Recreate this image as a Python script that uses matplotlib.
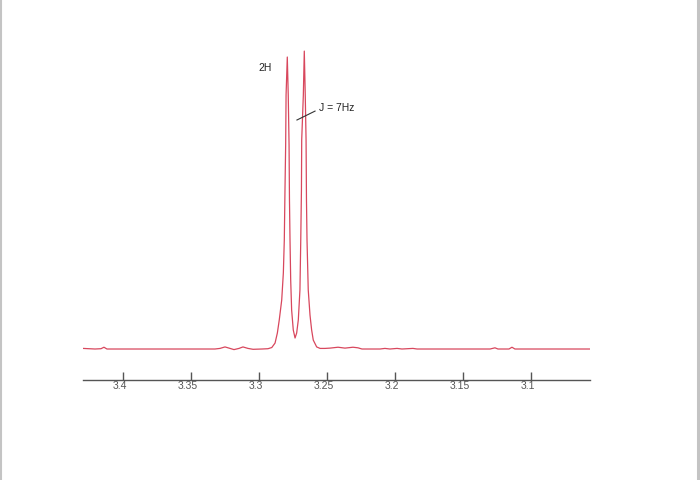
import matplotlib
matplotlib.use("Agg")
import matplotlib.pyplot as plt
from matplotlib.lines import Line2D
from matplotlib.transforms import ScaledTranslation

plt.rcParams["font.family"] = ["Liberation Sans", "DejaVu Sans"]

# chemical shift (ppm) and intensity
ppm = [3.4294, 3.4206, 3.4162, 3.4140, 3.4118, 3.3801, 3.3324, 3.3287, 3.3250,
       3.3213, 3.3184, 3.3147, 3.3118, 3.3081, 3.3044, 3.2978, 3.2934, 3.2906,
       3.2882, 3.2865, 3.2851, 3.2833, 3.2821, 3.2814, 3.2809, 3.2804, 3.2801,
       3.2792, 3.2785, 3.2779, 3.2776, 3.2772, 3.2767, 3.2760, 3.2748, 3.2735,
       3.2723, 3.2711, 3.2699, 3.2693, 3.2688, 3.2686, 3.2674, 3.2667, 3.2660,
       3.2654, 3.2651, 3.2647, 3.2638, 3.2625, 3.2613, 3.2601, 3.2576, 3.2551,
       3.2515, 3.2478, 3.2419, 3.2368, 3.2309, 3.2272, 3.2243, 3.2110, 3.2074,
       3.2037, 3.1985, 3.1949, 3.1868, 3.1838, 3.1301, 3.1265, 3.1243, 3.1162,
       3.1140, 3.1118, 3.0566]
intensity = [0.2, 0.0, 0.1, 0.6, 0.0, 0.0, 0.0, 0.2, 0.7,
             0.2, -0.2, 0.2, 0.7, 0.2, -0.1, 0.0, 0.1, 0.5,
             2.0, 5.4, 9.8, 16.5, 25.6, 36.7, 53.5, 68.7, 85.5,
             98.3, 85.5, 68.7, 50.2, 36.7, 23.2, 13.1, 6.4, 3.7,
             5.4, 9.8, 19.9, 36.7, 53.5, 70.4, 85.5, 100.3, 85.5,
             70.4, 50.2, 36.7, 19.9, 11.4, 6.4, 3.0, 0.7, 0.2,
             0.2, 0.3, 0.6, 0.3, 0.6, 0.4, 0.0, 0.0, 0.2,
             0.0, 0.2, 0.0, 0.2, 0.0, 0.0, 0.4, 0.0, 0.0,
             0.6, 0.0, 0.0]

tick_pos = [3.4, 3.35, 3.3, 3.25, 3.2, 3.15, 3.1]
tick_labels = ["3.4", "3.35", "3.3", "3.25", "3.2", "3.15", "3.1"]

label_2h = "2H"
label_j = "J = 7Hz"

fig = plt.figure(figsize=(7, 4.8), dpi=100)
ax = fig.add_axes([0.1186, 0.2083, 0.7243, 0.7084])

ax.plot(ppm, intensity, color="#d8475d", lw=0.9)

ax.set_xlim(3.4294, 3.0566)
ax.set_ylim(-10.44, 104.04)

for s in ("top", "left", "right"):
    ax.spines[s].set_visible(False)
ax.spines["bottom"].set_color("#555555")
ax.spines["bottom"].set_linewidth(1.0)
ax.set_yticks([])
ax.set_xticks(tick_pos)
ax.set_xticklabels(tick_labels)
ax.tick_params(axis="x", direction="in", length=6, width=1, color="#555555",
               pad=1, labelsize=7.5, labelcolor="#555555")
shift = ScaledTranslation(-3 / 100, 0, fig.dpi_scale_trans)
for lbl in ax.get_xticklabels():
    lbl.set_transform(lbl.get_transform() + shift)

ax.text(3.2956, 94.6, label_2h, fontsize=7.5, color="#222222",
        ha="center", va="center")
ax.plot([3.2721, 3.2588], [77.1, 80.1], color="#333333", lw=0.8)
ax.text(3.2559, 81.1, label_j, fontsize=7.5, color="#222222",
        ha="left", va="center")

# grey frame edges of the original screenshot
fig.add_artist(Line2D([0.0015, 0.0015], [0, 1], transform=fig.transFigure,
                      color="#c4c4c4", lw=1.5))
fig.add_artist(Line2D([0.997, 0.997], [0, 1], transform=fig.transFigure,
                      color="#c4c4c4", lw=2.2))

fig.savefig("out.png", dpi=100)
